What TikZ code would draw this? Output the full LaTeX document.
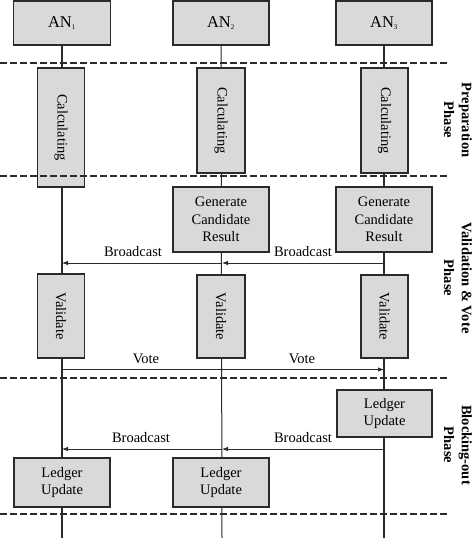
\documentclass[tikz,border=0pt]{standalone}
\usepackage{fontspec}
\setmainfont{Liberation Serif}
\usetikzlibrary{arrows.meta,backgrounds}
\definecolor{boxgray}{HTML}{D9D9D9}
\definecolor{edgegray}{HTML}{2A2A2A}
\newcommand\diagfs{\fontsize{14.5}{17.7}\selectfont}
\begin{document}
\begin{tikzpicture}[x=1pt,y=-1pt,
  box/.style={draw=edgegray,line width=1.1pt,fill=boxgray,inner sep=0pt,align=center,font=\diagfs},
  vbox/.style={box,rotate=-90},
  anbox/.style={box,font=\fontsize{16.5}{18}\selectfont,minimum height=44pt},
  life/.style={draw=edgegray,line width=1pt},
  phasesep/.style={draw=edgegray,line width=1.1pt,dash pattern=on 6.5pt off 3.5pt},
  msg/.style={draw=edgegray,line width=0.9pt},
  msgarr/.style={msg,-{Latex[length=6pt,width=4.5pt]}},
  lbl/.style={font=\diagfs,inner sep=0pt},
  phase/.style={font=\diagfs\bfseries,align=center,rotate=-90,inner sep=0pt}]
\useasboundingbox (0,0) rectangle (474,538);

% actor boxes
\node[anbox,minimum width=97pt] (an1) at (62,23) {AN\textsubscript{\scriptsize 1}};
\node[anbox,minimum width=96pt] (an2) at (221,23) {AN\textsubscript{\scriptsize 2}};
\node[anbox,minimum width=96pt] (an3) at (384,23) {AN\textsubscript{\scriptsize 3}};

% preparation
\node[vbox,minimum width=119pt,minimum height=47pt] (c1) at (61,127.5) {Calculating};
\node[vbox,minimum width=105pt,minimum height=48pt] (c2) at (221,120.5) {Calculating};
\node[vbox,minimum width=105pt,minimum height=47pt] (c3) at (384.5,120.5) {Calculating};

% generate candidate
\node[box,minimum width=96pt,minimum height=65pt] (g2) at (221,219.5) {Generate\\Candidate\\Result};
\node[box,minimum width=96pt,minimum height=65pt] (g3) at (384,219.5) {Generate\\Candidate\\Result};

% validate
\node[vbox,minimum width=84pt,minimum height=47pt] (v1) at (61,316) {Validate};
\node[vbox,minimum width=83pt,minimum height=48pt] (v2) at (221,316.5) {Validate};
\node[vbox,minimum width=83pt,minimum height=47pt] (v3) at (384.5,316.5) {Validate};

% ledger update
\node[box,minimum width=95pt,minimum height=47pt] (l3) at (384.5,413.5) {Ledger\\Update};
\node[box,minimum width=96pt,minimum height=49pt] (l1) at (62,482.5) {Ledger\\Update};
\node[box,minimum width=96pt,minimum height=49pt] (l2) at (221,482.5) {Ledger\\Update};

% lifeline coordinates
\coordinate (e1) at (62,538);
\coordinate (e2) at (222,538);
\coordinate (e3) at (384,538);
\coordinate (b1) at (62,263);
\coordinate (b2) at (222,263);
\coordinate (b3) at (384,263);
\coordinate (w1) at (62,369.5);
\coordinate (w2) at (222,369.5);
\coordinate (w3) at (384,369.5);
\coordinate (k1) at (62,449);
\coordinate (k2) at (222,449);
\coordinate (k3) at (384,449);

\begin{scope}[on background layer]
  \draw[life,line width=1.4pt] (an1.south) -- (e1);
  \draw[life] (an2.south) -- (e2);
  \draw[life,line width=1.3pt] (an3.south) -- (e3);
\end{scope}

% phase separators
\coordinate (s1a) at (0,63);   \coordinate (s1b) at (447,63);
\coordinate (s2a) at (0,176);  \coordinate (s2b) at (447,176);
\coordinate (s3a) at (0,378);  \coordinate (s3b) at (447,378);
\coordinate (s4a) at (0,514);  \coordinate (s4b) at (447,514);
\draw[phasesep] (s1a) -- (s1b);
\draw[phasesep] (s2a) -- (s2b);
\draw[phasesep] (s3a) -- (s3b);
\draw[phasesep] (s4a) -- (s4b);

% messages
\draw[msgarr] (b3) -- (b2);
\draw[msgarr] (b2) -- (b1);
\node[lbl] (bl1) at (133,252) {Broadcast};
\node[lbl] (bl2) at (303,252) {Broadcast};

\draw[msg] (w1) -- (w2);
\draw[msgarr] (w2) -- (w3);
\node[lbl] (vl1) at (146,359) {Vote};
\node[lbl] (vl2) at (302,359) {Vote};

\draw[msgarr] (k3) -- (k2);
\draw[msgarr] (k2) -- (k1);
\node[lbl] (kl1) at (141,438) {Broadcast};
\node[lbl] (kl2) at (303,438) {Broadcast};

% phase labels
\node[phase] (p1) at (458,120) {Preparation\\Phase};
\node[phase] (p2) at (458,278) {Validation \& Vote\\Phase};
\node[phase] (p3) at (458,445) {Blocking-out\\Phase};
\end{tikzpicture}
\end{document}
